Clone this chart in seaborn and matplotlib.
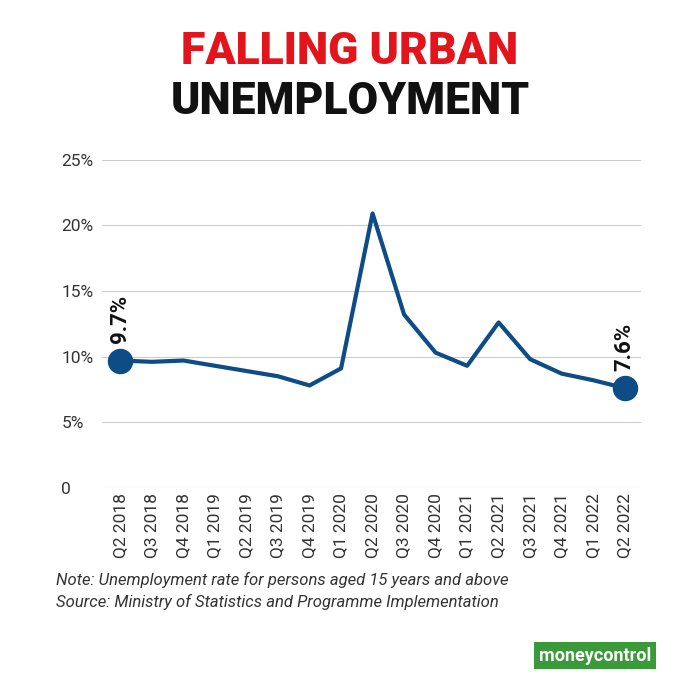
import matplotlib
matplotlib.use("Agg")
import matplotlib.pyplot as plt
import seaborn as sns
import pandas as pd

quarters = ["Q2 2018","Q3 2018","Q4 2018","Q1 2019","Q2 2019","Q3 2019","Q4 2019","Q1 2020",
            "Q2 2020","Q3 2020","Q4 2020","Q1 2021","Q2 2021","Q3 2021","Q4 2021","Q1 2022","Q2 2022"]
rates = [9.7, 9.6, 9.7, 9.3, 8.9, 8.5, 7.8, 9.1, 20.9, 13.2, 10.3, 9.3, 12.6, 9.8, 8.7, 8.2, 7.6]
yticks = [0, 5, 10, 15, 20, 25]
ylabels = ["0", "5%", "10%", "15%", "20%", "25%"]

sns.set_theme(style="white")
plt.rcParams['font.family'] = ['Roboto', 'DejaVu Sans']
df = pd.DataFrame({"q": range(len(quarters)), "r": rates})

fig = plt.figure(figsize=(7, 7), dpi=100)
fig.patch.set_facecolor("white")
ax = fig.add_axes([0.145, 0.303, 0.77, 0.469])
color = "#0d4c85"
sns.lineplot(data=df, x="q", y="r", ax=ax, color=color, lw=3)
ax.scatter([0, len(rates)-1], [rates[0], rates[-1]], s=300, color=color, zorder=5)
ax.text(0, rates[0]+1.3, f"{rates[0]}%", rotation=90, ha="center", va="bottom",
        fontsize=16, fontweight="bold", color="#111")
ax.text(len(rates)-1, rates[-1]+1.3, f"{rates[-1]}%", rotation=90, ha="center", va="bottom",
        fontsize=16, fontweight="bold", color="#111")
ax.set_ylim(0, 25)
ax.set_xlim(-0.6, len(rates)-0.5)
ax.set_yticks(yticks)
ax.set_yticklabels(ylabels)
ax.set_xticks(range(len(quarters)))
ax.set_xticklabels(quarters, rotation=90)
ax.tick_params(axis="both", labelsize=12.5, colors="#333", length=0)
for lab in ax.get_yticklabels():
    lab.set_horizontalalignment("left")
ax.tick_params(axis="y", pad=29)
ax.grid(axis="y", color="#cccccc", lw=0.8)
for s in ax.spines.values():
    s.set_visible(False)
ax.set_xlabel(""); ax.set_ylabel("")
ax.patch.set_alpha(0)

fig.text(0.5, 0.925, "FALLING URBAN", ha="center", va="center", fontsize=32,
         fontweight="heavy", color="#e3141b")
fig.text(0.5, 0.855, "UNEMPLOYMENT", ha="center", va="center", fontsize=32,
         fontweight="heavy", color="#111")
fig.text(0.08, 0.165, "Note: Unemployment rate for persons aged 15 years and above",
         fontsize=12, style="italic", color="#333")
fig.text(0.08, 0.133, "Source: Ministry of Statistics and Programme Implementation",
         fontsize=12, style="italic", color="#333")
fig.text(0.93, 0.063, "moneycontrol", ha="right", va="center", fontsize=13, fontweight="bold",
         color="white", bbox=dict(boxstyle="square,pad=0.25", fc="#3a9a3a", ec="none"))
fig.savefig("out.png", dpi=100)
